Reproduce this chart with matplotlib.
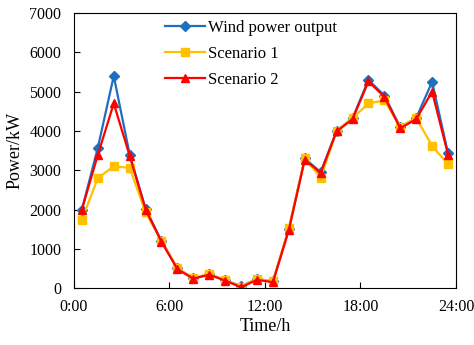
import matplotlib
matplotlib.use("Agg")
import matplotlib.pyplot as plt

plt.rcParams["font.family"] = ["Liberation Serif", "DejaVu Serif"]

hours = [h + 0.5 for h in range(24)]
wind = [2000, 3570, 5400, 3400, 2020, 1200, 500, 250, 350, 200, 50, 230,
        170, 1500, 3300, 2950, 4000, 4320, 5300, 4900, 4100, 4330, 5250, 3430]
scenario1 = [1740, 2800, 3100, 3060, 1930, 1200, 500, 250, 370, 200, 40, 240,
             170, 1530, 3300, 2810, 4000, 4330, 4700, 4780, 4100, 4330, 3620, 3150]
scenario2 = [2000, 3390, 4700, 3370, 2000, 1180, 480, 240, 340, 190, 20, 210,
             150, 1480, 3270, 2930, 3990, 4300, 5260, 4870, 4070, 4300, 5000, 3400]

xticks = [0, 6, 12, 18, 24]
xticklabels = ["0:00", "6:00", "12:00", "18:00", "24:00"]

fig = plt.figure(figsize=(4.74, 3.45), dpi=100)
ax = fig.add_axes([0.156, 0.165, 0.806, 0.797])

ax.plot(hours, wind, color="#1F6FC0", marker="D", markersize=5, lw=1.6,
        label="Wind power output")
ax.plot(hours, scenario1, color="#FFC000", marker="s", markersize=5.5, lw=1.6,
        label="Scenario 1")
ax.plot(hours, scenario2, color="#FF0000", marker="^", markersize=6, lw=1.6,
        label="Scenario 2")

ax.set_xlim(0, 24)
ax.set_ylim(0, 7000)
ax.set_xticks(xticks)
ax.set_xticklabels(xticklabels)
ax.set_yticks(range(0, 7001, 1000))
ax.tick_params(direction="in", labelsize=11.5, length=4)
ax.tick_params(axis="x", pad=8)
ax.tick_params(axis="y", pad=9)
ax.set_xlabel("Time/h", fontsize=13, labelpad=2)
ax.set_ylabel("Power/kW", fontsize=13, labelpad=4)

ax.legend(loc="upper left", bbox_to_anchor=(0.2, 1.03), frameon=False,
          fontsize=12, handlelength=2.4, handletextpad=0.15, labelspacing=0.6)

fig.savefig("out.png", dpi=100)
